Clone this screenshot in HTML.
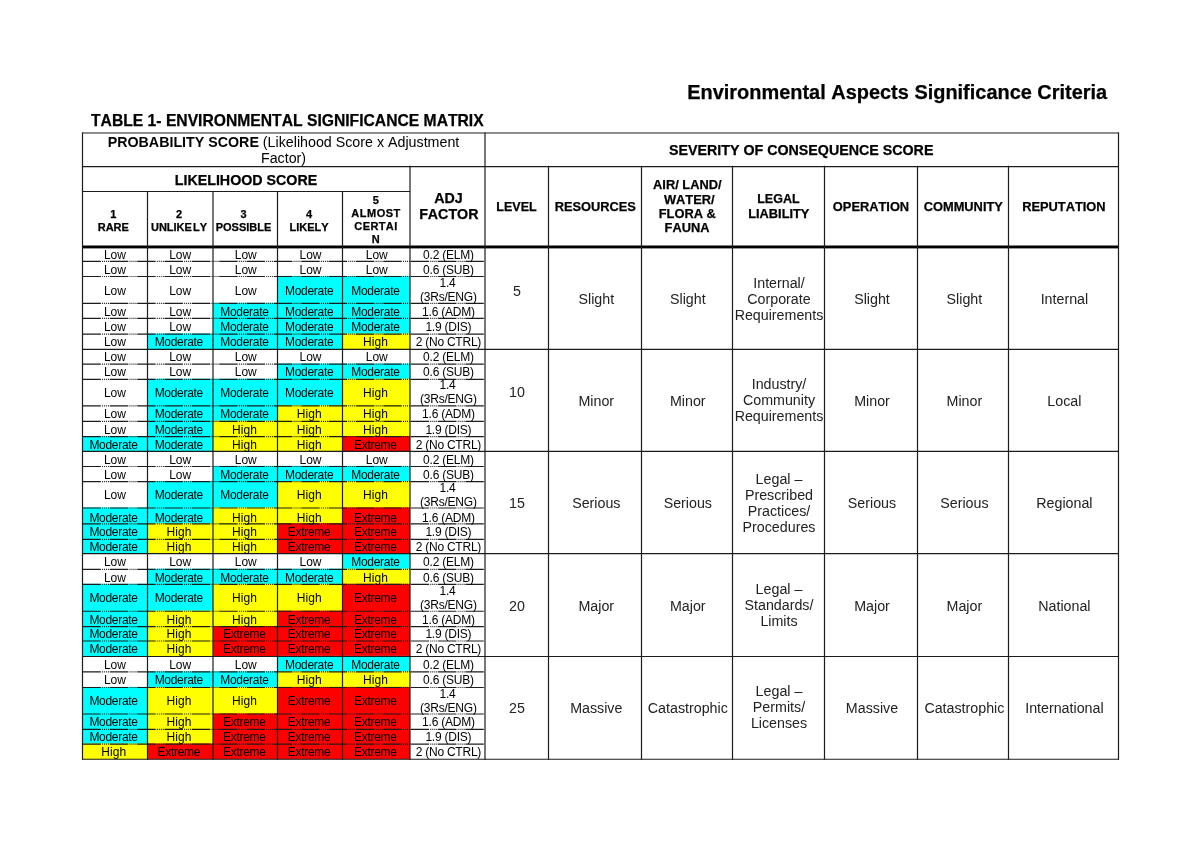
<!DOCTYPE html>
<html><head><meta charset="utf-8"><title>Environmental Aspects Significance Criteria</title>
<style>
html,body{margin:0;padding:0;background:#fff}
body{width:1200px;height:849px;position:relative;overflow:hidden;font-family:"Liberation Sans",sans-serif;color:#000}
.g{position:absolute;left:0;top:0}
.l{stroke:#1c1c1c;stroke-width:1.2}
.d{stroke:#1c1c1c;stroke-width:1.15;stroke-dasharray:18.4 1.2 1 1 1 1 1 1 1 0.75;stroke-dashoffset:0}
.t{position:absolute;white-space:nowrap;font-weight:normal;font-kerning:none}
.b{font-weight:bold;-webkit-text-stroke:0.25px #000}
</style></head><body>
<svg class="g" width="1200" height="849" viewBox="0 0 1200 849">
<rect x="277.5" y="275.90" width="65.00" height="27.50" fill="#00ffff"/>
<rect x="342.5" y="275.90" width="67.50" height="27.50" fill="#00ffff"/>
<rect x="213.0" y="302.80" width="64.50" height="15.60" fill="#00ffff"/>
<rect x="277.5" y="302.80" width="65.00" height="15.60" fill="#00ffff"/>
<rect x="342.5" y="302.80" width="67.50" height="15.60" fill="#00ffff"/>
<rect x="213.0" y="317.80" width="64.50" height="16.30" fill="#00ffff"/>
<rect x="277.5" y="317.80" width="65.00" height="16.30" fill="#00ffff"/>
<rect x="342.5" y="317.80" width="67.50" height="16.30" fill="#00ffff"/>
<rect x="147.5" y="333.50" width="65.50" height="15.95" fill="#00ffff"/>
<rect x="213.0" y="333.50" width="64.50" height="15.95" fill="#00ffff"/>
<rect x="277.5" y="333.50" width="65.00" height="15.95" fill="#00ffff"/>
<rect x="342.5" y="333.50" width="67.50" height="15.95" fill="#ffff00"/>
<rect x="277.5" y="363.50" width="65.00" height="15.80" fill="#00ffff"/>
<rect x="342.5" y="363.50" width="67.50" height="15.80" fill="#00ffff"/>
<rect x="147.5" y="378.70" width="65.50" height="27.10" fill="#00ffff"/>
<rect x="213.0" y="378.70" width="64.50" height="27.10" fill="#00ffff"/>
<rect x="277.5" y="378.70" width="65.00" height="27.10" fill="#00ffff"/>
<rect x="342.5" y="378.70" width="67.50" height="27.10" fill="#ffff00"/>
<rect x="147.5" y="405.20" width="65.50" height="16.10" fill="#00ffff"/>
<rect x="213.0" y="405.20" width="64.50" height="16.10" fill="#00ffff"/>
<rect x="277.5" y="405.20" width="65.00" height="16.10" fill="#ffff00"/>
<rect x="342.5" y="405.20" width="67.50" height="16.10" fill="#ffff00"/>
<rect x="147.5" y="420.70" width="65.50" height="15.90" fill="#00ffff"/>
<rect x="213.0" y="420.70" width="64.50" height="15.90" fill="#ffff00"/>
<rect x="277.5" y="420.70" width="65.00" height="15.90" fill="#ffff00"/>
<rect x="342.5" y="420.70" width="67.50" height="15.90" fill="#ffff00"/>
<rect x="82.5" y="436.00" width="65.00" height="15.40" fill="#00ffff"/>
<rect x="147.5" y="436.00" width="65.50" height="15.40" fill="#00ffff"/>
<rect x="213.0" y="436.00" width="64.50" height="15.40" fill="#ffff00"/>
<rect x="277.5" y="436.00" width="65.00" height="15.40" fill="#ffff00"/>
<rect x="342.5" y="436.00" width="67.50" height="15.40" fill="#ff0000"/>
<rect x="213.0" y="465.85" width="64.50" height="15.75" fill="#00ffff"/>
<rect x="277.5" y="465.85" width="65.00" height="15.75" fill="#00ffff"/>
<rect x="342.5" y="465.85" width="67.50" height="15.75" fill="#00ffff"/>
<rect x="147.5" y="481.00" width="65.50" height="27.00" fill="#00ffff"/>
<rect x="213.0" y="481.00" width="64.50" height="27.00" fill="#00ffff"/>
<rect x="277.5" y="481.00" width="65.00" height="27.00" fill="#ffff00"/>
<rect x="342.5" y="481.00" width="67.50" height="27.00" fill="#ffff00"/>
<rect x="82.5" y="507.40" width="65.00" height="16.40" fill="#00ffff"/>
<rect x="147.5" y="507.40" width="65.50" height="16.40" fill="#00ffff"/>
<rect x="213.0" y="507.40" width="64.50" height="16.40" fill="#ffff00"/>
<rect x="277.5" y="507.40" width="65.00" height="16.40" fill="#ffff00"/>
<rect x="342.5" y="507.40" width="67.50" height="16.40" fill="#ff0000"/>
<rect x="82.5" y="523.20" width="65.00" height="16.10" fill="#00ffff"/>
<rect x="147.5" y="523.20" width="65.50" height="16.10" fill="#ffff00"/>
<rect x="213.0" y="523.20" width="64.50" height="16.10" fill="#ffff00"/>
<rect x="277.5" y="523.20" width="65.00" height="16.10" fill="#ff0000"/>
<rect x="342.5" y="523.20" width="67.50" height="16.10" fill="#ff0000"/>
<rect x="82.5" y="538.70" width="65.00" height="14.95" fill="#00ffff"/>
<rect x="147.5" y="538.70" width="65.50" height="14.95" fill="#ffff00"/>
<rect x="213.0" y="538.70" width="64.50" height="14.95" fill="#ffff00"/>
<rect x="277.5" y="538.70" width="65.00" height="14.95" fill="#ff0000"/>
<rect x="342.5" y="538.70" width="67.50" height="14.95" fill="#ff0000"/>
<rect x="342.5" y="553.05" width="67.50" height="16.25" fill="#00ffff"/>
<rect x="147.5" y="568.70" width="65.50" height="15.70" fill="#00ffff"/>
<rect x="213.0" y="568.70" width="64.50" height="15.70" fill="#00ffff"/>
<rect x="277.5" y="568.70" width="65.00" height="15.70" fill="#00ffff"/>
<rect x="342.5" y="568.70" width="67.50" height="15.70" fill="#ffff00"/>
<rect x="82.5" y="583.80" width="65.00" height="27.45" fill="#00ffff"/>
<rect x="147.5" y="583.80" width="65.50" height="27.45" fill="#00ffff"/>
<rect x="213.0" y="583.80" width="64.50" height="27.45" fill="#ffff00"/>
<rect x="277.5" y="583.80" width="65.00" height="27.45" fill="#ffff00"/>
<rect x="342.5" y="583.80" width="67.50" height="27.45" fill="#ff0000"/>
<rect x="82.5" y="610.65" width="65.00" height="15.95" fill="#00ffff"/>
<rect x="147.5" y="610.65" width="65.50" height="15.95" fill="#ffff00"/>
<rect x="213.0" y="610.65" width="64.50" height="15.95" fill="#ffff00"/>
<rect x="277.5" y="610.65" width="65.00" height="15.95" fill="#ff0000"/>
<rect x="342.5" y="610.65" width="67.50" height="15.95" fill="#ff0000"/>
<rect x="82.5" y="626.00" width="65.00" height="15.00" fill="#00ffff"/>
<rect x="147.5" y="626.00" width="65.50" height="15.00" fill="#ffff00"/>
<rect x="213.0" y="626.00" width="64.50" height="15.00" fill="#ff0000"/>
<rect x="277.5" y="626.00" width="65.00" height="15.00" fill="#ff0000"/>
<rect x="342.5" y="626.00" width="67.50" height="15.00" fill="#ff0000"/>
<rect x="82.5" y="640.40" width="65.00" height="16.10" fill="#00ffff"/>
<rect x="147.5" y="640.40" width="65.50" height="16.10" fill="#ffff00"/>
<rect x="213.0" y="640.40" width="64.50" height="16.10" fill="#ff0000"/>
<rect x="277.5" y="640.40" width="65.00" height="16.10" fill="#ff0000"/>
<rect x="342.5" y="640.40" width="67.50" height="16.10" fill="#ff0000"/>
<rect x="277.5" y="655.90" width="65.00" height="16.00" fill="#00ffff"/>
<rect x="342.5" y="655.90" width="67.50" height="16.00" fill="#00ffff"/>
<rect x="147.5" y="671.30" width="65.50" height="16.20" fill="#00ffff"/>
<rect x="213.0" y="671.30" width="64.50" height="16.20" fill="#00ffff"/>
<rect x="277.5" y="671.30" width="65.00" height="16.20" fill="#ffff00"/>
<rect x="342.5" y="671.30" width="67.50" height="16.20" fill="#ffff00"/>
<rect x="82.5" y="686.90" width="65.00" height="27.10" fill="#00ffff"/>
<rect x="147.5" y="686.90" width="65.50" height="27.10" fill="#ffff00"/>
<rect x="213.0" y="686.90" width="64.50" height="27.10" fill="#ffff00"/>
<rect x="277.5" y="686.90" width="65.00" height="27.10" fill="#ff0000"/>
<rect x="342.5" y="686.90" width="67.50" height="27.10" fill="#ff0000"/>
<rect x="82.5" y="713.40" width="65.00" height="15.90" fill="#00ffff"/>
<rect x="147.5" y="713.40" width="65.50" height="15.90" fill="#ffff00"/>
<rect x="213.0" y="713.40" width="64.50" height="15.90" fill="#ff0000"/>
<rect x="277.5" y="713.40" width="65.00" height="15.90" fill="#ff0000"/>
<rect x="342.5" y="713.40" width="67.50" height="15.90" fill="#ff0000"/>
<rect x="82.5" y="728.70" width="65.00" height="15.40" fill="#00ffff"/>
<rect x="147.5" y="728.70" width="65.50" height="15.40" fill="#ffff00"/>
<rect x="213.0" y="728.70" width="64.50" height="15.40" fill="#ff0000"/>
<rect x="277.5" y="728.70" width="65.00" height="15.40" fill="#ff0000"/>
<rect x="342.5" y="728.70" width="67.50" height="15.40" fill="#ff0000"/>
<rect x="82.5" y="743.50" width="65.00" height="15.75" fill="#ffff00"/>
<rect x="147.5" y="743.50" width="65.50" height="15.75" fill="#ff0000"/>
<rect x="213.0" y="743.50" width="64.50" height="15.75" fill="#ff0000"/>
<rect x="277.5" y="743.50" width="65.00" height="15.75" fill="#ff0000"/>
<rect x="342.5" y="743.50" width="67.50" height="15.75" fill="#ff0000"/>
<line class="l" x1="82.0" y1="133.0" x2="1119.0" y2="133.0"/>
<line class="l" x1="82.0" y1="166.6" x2="1119.0" y2="166.6"/>
<line class="l" x1="82.0" y1="191.5" x2="410.0" y2="191.5"/>
<rect x="82.0" y="245.5" width="1037.0" height="2.90" fill="#000"/>
<line class="d" x1="82.5" y1="261.4" x2="485.0" y2="261.4"/>
<line class="d" x1="82.5" y1="276.5" x2="485.0" y2="276.5"/>
<line class="d" x1="82.5" y1="303.4" x2="485.0" y2="303.4"/>
<line class="d" x1="82.5" y1="318.4" x2="485.0" y2="318.4"/>
<line class="d" x1="82.5" y1="334.1" x2="485.0" y2="334.1"/>
<line class="l" x1="82.0" y1="349.45" x2="1119.0" y2="349.45"/>
<line class="d" x1="82.5" y1="364.1" x2="485.0" y2="364.1"/>
<line class="d" x1="82.5" y1="379.3" x2="485.0" y2="379.3"/>
<line class="d" x1="82.5" y1="405.8" x2="485.0" y2="405.8"/>
<line class="d" x1="82.5" y1="421.3" x2="485.0" y2="421.3"/>
<line class="d" x1="82.5" y1="436.6" x2="485.0" y2="436.6"/>
<line class="l" x1="82.0" y1="451.4" x2="1119.0" y2="451.4"/>
<line class="d" x1="82.5" y1="466.45" x2="485.0" y2="466.45"/>
<line class="d" x1="82.5" y1="481.6" x2="485.0" y2="481.6"/>
<line class="d" x1="82.5" y1="508.0" x2="485.0" y2="508.0"/>
<line class="d" x1="82.5" y1="523.8" x2="485.0" y2="523.8"/>
<line class="d" x1="82.5" y1="539.3" x2="485.0" y2="539.3"/>
<line class="l" x1="82.0" y1="553.65" x2="1119.0" y2="553.65"/>
<line class="d" x1="82.5" y1="569.3" x2="485.0" y2="569.3"/>
<line class="d" x1="82.5" y1="584.4" x2="485.0" y2="584.4"/>
<line class="d" x1="82.5" y1="611.25" x2="485.0" y2="611.25"/>
<line class="d" x1="82.5" y1="626.6" x2="485.0" y2="626.6"/>
<line class="d" x1="82.5" y1="641.0" x2="485.0" y2="641.0"/>
<line class="l" x1="82.0" y1="656.5" x2="1119.0" y2="656.5"/>
<line class="d" x1="82.5" y1="671.9" x2="485.0" y2="671.9"/>
<line class="d" x1="82.5" y1="687.5" x2="485.0" y2="687.5"/>
<line class="d" x1="82.5" y1="714.0" x2="485.0" y2="714.0"/>
<line class="d" x1="82.5" y1="729.3" x2="485.0" y2="729.3"/>
<line class="d" x1="82.5" y1="744.1" x2="485.0" y2="744.1"/>
<line class="l" x1="82.0" y1="759.25" x2="1119.0" y2="759.25"/>
<line class="l" x1="82.5" y1="132.5" x2="82.5" y2="759.75"/>
<line class="l" x1="147.5" y1="191.0" x2="147.5" y2="759.75"/>
<line class="l" x1="213.0" y1="191.0" x2="213.0" y2="759.75"/>
<line class="l" x1="277.5" y1="191.0" x2="277.5" y2="759.75"/>
<line class="l" x1="342.5" y1="191.0" x2="342.5" y2="759.75"/>
<line class="l" x1="410.0" y1="165.7" x2="410.0" y2="759.75"/>
<line class="l" x1="485.0" y1="132.5" x2="485.0" y2="759.75"/>
<line class="l" x1="548.5" y1="165.7" x2="548.5" y2="759.75"/>
<line class="l" x1="641.5" y1="165.7" x2="641.5" y2="759.75"/>
<line class="l" x1="732.5" y1="165.7" x2="732.5" y2="759.75"/>
<line class="l" x1="824.5" y1="165.7" x2="824.5" y2="759.75"/>
<line class="l" x1="917.5" y1="165.7" x2="917.5" y2="759.75"/>
<line class="l" x1="1008.5" y1="165.7" x2="1008.5" y2="759.75"/>
<line class="l" x1="1118.5" y1="132.5" x2="1118.5" y2="759.75"/>
</svg>
<div class="t b" style="left:207.20px;top:79.69px;width:900px;font-size:19.95px;line-height:24px;text-align:right;">Environmental Aspects Significance Criteria</div>
<div class="t b" style="left:91.00px;top:111.27px;width:900px;font-size:15.68px;line-height:19px;text-align:left;">TABLE 1- ENVIRONMENTAL SIGNIFICANCE MATRIX</div>
<div class="t" style="left:-166.50px;top:134.26px;width:900px;font-size:14.25px;line-height:17px;text-align:center;"><b>PROBABILITY SCORE</b> (Likelihood Score x Adjustment</div>
<div class="t" style="left:-166.50px;top:149.96px;width:900px;font-size:14.25px;line-height:17px;text-align:center;">Factor)</div>
<div class="t b" style="left:-204.00px;top:172.16px;width:900px;font-size:14.25px;line-height:17px;text-align:center;">LIKELIHOOD SCORE</div>
<div class="t b" style="left:351.20px;top:142.06px;width:900px;font-size:14.25px;line-height:17px;text-align:center;">SEVERITY OF CONSEQUENCE SCORE</div>
<div class="t b" style="left:-336.70px;top:207.99px;width:900px;font-size:11px;line-height:13px;text-align:center;">1</div>
<div class="t b" style="left:-336.70px;top:220.79px;width:900px;font-size:11px;line-height:13px;text-align:center;">RARE</div>
<div class="t b" style="left:-271.00px;top:207.99px;width:900px;font-size:11px;line-height:13px;text-align:center;">2</div>
<div class="t b" style="left:-271.00px;top:220.79px;width:900px;font-size:11px;line-height:13px;text-align:center;">UNLIK<span style="letter-spacing:1.1px">E</span>LY</div>
<div class="t b" style="left:-206.50px;top:207.99px;width:900px;font-size:11px;line-height:13px;text-align:center;">3</div>
<div class="t b" style="left:-206.50px;top:220.79px;width:900px;font-size:11px;line-height:13px;text-align:center;">POSSIBLE</div>
<div class="t b" style="left:-141.00px;top:207.99px;width:900px;font-size:11px;line-height:13px;text-align:center;">4</div>
<div class="t b" style="left:-141.00px;top:220.79px;width:900px;font-size:11px;line-height:13px;text-align:center;">LIKELY</div>
<div class="t b" style="left:-74.20px;top:193.89px;width:900px;font-size:11px;line-height:13px;text-align:center;letter-spacing:0px">5</div>
<div class="t b" style="left:-73.95px;top:206.99px;width:900px;font-size:11px;line-height:13px;text-align:center;letter-spacing:0.5px">ALMOST</div>
<div class="t b" style="left:-74.00px;top:219.89px;width:900px;font-size:11px;line-height:13px;text-align:center;letter-spacing:0.4px">CERTAI</div>
<div class="t b" style="left:-74.20px;top:232.99px;width:900px;font-size:11px;line-height:13px;text-align:center;letter-spacing:0px">N</div>
<div class="t b" style="left:-1.50px;top:189.86px;width:900px;font-size:14.25px;line-height:17px;text-align:center;">ADJ</div>
<div class="t b" style="left:-1.20px;top:206.36px;width:900px;font-size:14.25px;line-height:17px;text-align:center;">FACTOR</div>
<div class="t b" style="left:66.50px;top:199.97px;width:900px;font-size:12.5px;line-height:15px;text-align:center;">LEVEL</div>
<div class="t b" style="left:145.30px;top:198.85px;width:900px;font-size:12.83px;line-height:15px;text-align:center;">RESOURCES</div>
<div class="t b" style="left:237.30px;top:176.75px;width:900px;font-size:12.83px;line-height:15px;text-align:center;">AIR/ LAND/</div>
<div class="t b" style="left:239.30px;top:191.75px;width:900px;font-size:12.83px;line-height:15px;text-align:center;">WATER/</div>
<div class="t b" style="left:237.30px;top:206.25px;width:900px;font-size:12.83px;line-height:15px;text-align:center;">FLORA &amp;</div>
<div class="t b" style="left:237.00px;top:220.45px;width:900px;font-size:12.83px;line-height:15px;text-align:center;">FAUNA</div>
<div class="t b" style="left:328.40px;top:191.87px;width:900px;font-size:12.5px;line-height:15px;text-align:center;">LEGAL</div>
<div class="t b" style="left:328.80px;top:206.25px;width:900px;font-size:12.83px;line-height:15px;text-align:center;">LIABILITY</div>
<div class="t b" style="left:421.00px;top:198.85px;width:900px;font-size:12.83px;line-height:15px;text-align:center;">OPERATION</div>
<div class="t b" style="left:513.30px;top:198.85px;width:900px;font-size:12.83px;line-height:15px;text-align:center;">COMMUNITY</div>
<div class="t b" style="left:613.90px;top:198.85px;width:900px;font-size:12.83px;line-height:15px;text-align:center;">REPUTATION</div>
<div class="t" style="left:-335.10px;top:248.00px;width:900px;font-size:12px;line-height:14px;text-align:center;">Low</div>
<div class="t" style="left:-269.85px;top:248.00px;width:900px;font-size:12px;line-height:14px;text-align:center;">Low</div>
<div class="t" style="left:-204.25px;top:248.00px;width:900px;font-size:12px;line-height:14px;text-align:center;">Low</div>
<div class="t" style="left:-139.50px;top:248.00px;width:900px;font-size:12px;line-height:14px;text-align:center;">Low</div>
<div class="t" style="left:-73.25px;top:248.00px;width:900px;font-size:12px;line-height:14px;text-align:center;">Low</div>
<div class="t" style="left:-1.62px;top:248.00px;width:900px;font-size:12px;line-height:14px;text-align:center;letter-spacing:-0.23px">0.2 (ELM)</div>
<div class="t" style="left:-335.10px;top:263.00px;width:900px;font-size:12px;line-height:14px;text-align:center;">Low</div>
<div class="t" style="left:-269.85px;top:263.00px;width:900px;font-size:12px;line-height:14px;text-align:center;">Low</div>
<div class="t" style="left:-204.25px;top:263.00px;width:900px;font-size:12px;line-height:14px;text-align:center;">Low</div>
<div class="t" style="left:-139.50px;top:263.00px;width:900px;font-size:12px;line-height:14px;text-align:center;">Low</div>
<div class="t" style="left:-73.25px;top:263.00px;width:900px;font-size:12px;line-height:14px;text-align:center;">Low</div>
<div class="t" style="left:-1.62px;top:263.00px;width:900px;font-size:12px;line-height:14px;text-align:center;letter-spacing:-0.23px">0.6 (SUB)</div>
<div class="t" style="left:-335.10px;top:284.00px;width:900px;font-size:12px;line-height:14px;text-align:center;">Low</div>
<div class="t" style="left:-269.85px;top:284.00px;width:900px;font-size:12px;line-height:14px;text-align:center;">Low</div>
<div class="t" style="left:-204.25px;top:284.00px;width:900px;font-size:12px;line-height:14px;text-align:center;">Low</div>
<div class="t" style="left:-140.85px;top:284.00px;width:900px;font-size:12px;line-height:14px;text-align:center;letter-spacing:-0.3px">Moderate</div>
<div class="t" style="left:-74.60px;top:284.00px;width:900px;font-size:12px;line-height:14px;text-align:center;letter-spacing:-0.3px">Moderate</div>
<div class="t" style="left:-2.51px;top:276.00px;width:900px;font-size:12px;line-height:14px;text-align:center;letter-spacing:-0.23px">1.4</div>
<div class="t" style="left:-1.62px;top:290.00px;width:900px;font-size:12px;line-height:14px;text-align:center;letter-spacing:-0.23px">(3Rs/ENG)</div>
<div class="t" style="left:-335.10px;top:305.00px;width:900px;font-size:12px;line-height:14px;text-align:center;">Low</div>
<div class="t" style="left:-269.85px;top:305.00px;width:900px;font-size:12px;line-height:14px;text-align:center;">Low</div>
<div class="t" style="left:-205.60px;top:305.00px;width:900px;font-size:12px;line-height:14px;text-align:center;letter-spacing:-0.3px">Moderate</div>
<div class="t" style="left:-140.85px;top:305.00px;width:900px;font-size:12px;line-height:14px;text-align:center;letter-spacing:-0.3px">Moderate</div>
<div class="t" style="left:-74.60px;top:305.00px;width:900px;font-size:12px;line-height:14px;text-align:center;letter-spacing:-0.3px">Moderate</div>
<div class="t" style="left:-1.62px;top:305.00px;width:900px;font-size:12px;line-height:14px;text-align:center;letter-spacing:-0.23px">1.6 (ADM)</div>
<div class="t" style="left:-335.10px;top:320.00px;width:900px;font-size:12px;line-height:14px;text-align:center;">Low</div>
<div class="t" style="left:-269.85px;top:320.00px;width:900px;font-size:12px;line-height:14px;text-align:center;">Low</div>
<div class="t" style="left:-205.60px;top:320.00px;width:900px;font-size:12px;line-height:14px;text-align:center;letter-spacing:-0.3px">Moderate</div>
<div class="t" style="left:-140.85px;top:320.00px;width:900px;font-size:12px;line-height:14px;text-align:center;letter-spacing:-0.3px">Moderate</div>
<div class="t" style="left:-74.60px;top:320.00px;width:900px;font-size:12px;line-height:14px;text-align:center;letter-spacing:-0.3px">Moderate</div>
<div class="t" style="left:-1.62px;top:320.00px;width:900px;font-size:12px;line-height:14px;text-align:center;letter-spacing:-0.23px">1.9 (DIS)</div>
<div class="t" style="left:-335.10px;top:335.00px;width:900px;font-size:12px;line-height:14px;text-align:center;">Low</div>
<div class="t" style="left:-271.20px;top:335.00px;width:900px;font-size:12px;line-height:14px;text-align:center;letter-spacing:-0.3px">Moderate</div>
<div class="t" style="left:-205.60px;top:335.00px;width:900px;font-size:12px;line-height:14px;text-align:center;letter-spacing:-0.3px">Moderate</div>
<div class="t" style="left:-140.85px;top:335.00px;width:900px;font-size:12px;line-height:14px;text-align:center;letter-spacing:-0.3px">Moderate</div>
<div class="t" style="left:-74.40px;top:335.00px;width:900px;font-size:12px;line-height:14px;text-align:center;letter-spacing:0.1px">High</div>
<div class="t" style="left:-1.62px;top:335.00px;width:900px;font-size:12px;line-height:14px;text-align:center;letter-spacing:-0.23px">2 (No CTRL)</div>
<div class="t" style="left:-335.10px;top:350.00px;width:900px;font-size:12px;line-height:14px;text-align:center;">Low</div>
<div class="t" style="left:-269.85px;top:350.00px;width:900px;font-size:12px;line-height:14px;text-align:center;">Low</div>
<div class="t" style="left:-204.25px;top:350.00px;width:900px;font-size:12px;line-height:14px;text-align:center;">Low</div>
<div class="t" style="left:-139.50px;top:350.00px;width:900px;font-size:12px;line-height:14px;text-align:center;">Low</div>
<div class="t" style="left:-73.25px;top:350.00px;width:900px;font-size:12px;line-height:14px;text-align:center;">Low</div>
<div class="t" style="left:-1.62px;top:350.00px;width:900px;font-size:12px;line-height:14px;text-align:center;letter-spacing:-0.23px">0.2 (ELM)</div>
<div class="t" style="left:-335.10px;top:365.00px;width:900px;font-size:12px;line-height:14px;text-align:center;">Low</div>
<div class="t" style="left:-269.85px;top:365.00px;width:900px;font-size:12px;line-height:14px;text-align:center;">Low</div>
<div class="t" style="left:-204.25px;top:365.00px;width:900px;font-size:12px;line-height:14px;text-align:center;">Low</div>
<div class="t" style="left:-140.85px;top:365.00px;width:900px;font-size:12px;line-height:14px;text-align:center;letter-spacing:-0.3px">Moderate</div>
<div class="t" style="left:-74.60px;top:365.00px;width:900px;font-size:12px;line-height:14px;text-align:center;letter-spacing:-0.3px">Moderate</div>
<div class="t" style="left:-1.62px;top:365.00px;width:900px;font-size:12px;line-height:14px;text-align:center;letter-spacing:-0.23px">0.6 (SUB)</div>
<div class="t" style="left:-335.10px;top:386.00px;width:900px;font-size:12px;line-height:14px;text-align:center;">Low</div>
<div class="t" style="left:-271.20px;top:386.00px;width:900px;font-size:12px;line-height:14px;text-align:center;letter-spacing:-0.3px">Moderate</div>
<div class="t" style="left:-205.60px;top:386.00px;width:900px;font-size:12px;line-height:14px;text-align:center;letter-spacing:-0.3px">Moderate</div>
<div class="t" style="left:-140.85px;top:386.00px;width:900px;font-size:12px;line-height:14px;text-align:center;letter-spacing:-0.3px">Moderate</div>
<div class="t" style="left:-74.40px;top:386.00px;width:900px;font-size:12px;line-height:14px;text-align:center;letter-spacing:0.1px">High</div>
<div class="t" style="left:-2.51px;top:378.00px;width:900px;font-size:12px;line-height:14px;text-align:center;letter-spacing:-0.23px">1.4</div>
<div class="t" style="left:-1.62px;top:392.00px;width:900px;font-size:12px;line-height:14px;text-align:center;letter-spacing:-0.23px">(3Rs/ENG)</div>
<div class="t" style="left:-335.10px;top:407.00px;width:900px;font-size:12px;line-height:14px;text-align:center;">Low</div>
<div class="t" style="left:-271.20px;top:407.00px;width:900px;font-size:12px;line-height:14px;text-align:center;letter-spacing:-0.3px">Moderate</div>
<div class="t" style="left:-205.60px;top:407.00px;width:900px;font-size:12px;line-height:14px;text-align:center;letter-spacing:-0.3px">Moderate</div>
<div class="t" style="left:-140.65px;top:407.00px;width:900px;font-size:12px;line-height:14px;text-align:center;letter-spacing:0.1px">High</div>
<div class="t" style="left:-74.40px;top:407.00px;width:900px;font-size:12px;line-height:14px;text-align:center;letter-spacing:0.1px">High</div>
<div class="t" style="left:-1.62px;top:407.00px;width:900px;font-size:12px;line-height:14px;text-align:center;letter-spacing:-0.23px">1.6 (ADM)</div>
<div class="t" style="left:-335.10px;top:423.00px;width:900px;font-size:12px;line-height:14px;text-align:center;">Low</div>
<div class="t" style="left:-271.20px;top:423.00px;width:900px;font-size:12px;line-height:14px;text-align:center;letter-spacing:-0.3px">Moderate</div>
<div class="t" style="left:-205.40px;top:423.00px;width:900px;font-size:12px;line-height:14px;text-align:center;letter-spacing:0.1px">High</div>
<div class="t" style="left:-140.65px;top:423.00px;width:900px;font-size:12px;line-height:14px;text-align:center;letter-spacing:0.1px">High</div>
<div class="t" style="left:-74.40px;top:423.00px;width:900px;font-size:12px;line-height:14px;text-align:center;letter-spacing:0.1px">High</div>
<div class="t" style="left:-1.62px;top:423.00px;width:900px;font-size:12px;line-height:14px;text-align:center;letter-spacing:-0.23px">1.9 (DIS)</div>
<div class="t" style="left:-336.45px;top:438.00px;width:900px;font-size:12px;line-height:14px;text-align:center;letter-spacing:-0.3px">Moderate</div>
<div class="t" style="left:-271.20px;top:438.00px;width:900px;font-size:12px;line-height:14px;text-align:center;letter-spacing:-0.3px">Moderate</div>
<div class="t" style="left:-205.40px;top:438.00px;width:900px;font-size:12px;line-height:14px;text-align:center;letter-spacing:0.1px">High</div>
<div class="t" style="left:-140.65px;top:438.00px;width:900px;font-size:12px;line-height:14px;text-align:center;letter-spacing:0.1px">High</div>
<div class="t" style="left:-74.60px;top:438.00px;width:900px;font-size:12px;line-height:14px;text-align:center;letter-spacing:-0.3px">Extreme</div>
<div class="t" style="left:-1.62px;top:438.00px;width:900px;font-size:12px;line-height:14px;text-align:center;letter-spacing:-0.23px">2 (No CTRL)</div>
<div class="t" style="left:-335.10px;top:453.00px;width:900px;font-size:12px;line-height:14px;text-align:center;">Low</div>
<div class="t" style="left:-269.85px;top:453.00px;width:900px;font-size:12px;line-height:14px;text-align:center;">Low</div>
<div class="t" style="left:-204.25px;top:453.00px;width:900px;font-size:12px;line-height:14px;text-align:center;">Low</div>
<div class="t" style="left:-139.50px;top:453.00px;width:900px;font-size:12px;line-height:14px;text-align:center;">Low</div>
<div class="t" style="left:-73.25px;top:453.00px;width:900px;font-size:12px;line-height:14px;text-align:center;">Low</div>
<div class="t" style="left:-1.62px;top:453.00px;width:900px;font-size:12px;line-height:14px;text-align:center;letter-spacing:-0.23px">0.2 (ELM)</div>
<div class="t" style="left:-335.10px;top:468.00px;width:900px;font-size:12px;line-height:14px;text-align:center;">Low</div>
<div class="t" style="left:-269.85px;top:468.00px;width:900px;font-size:12px;line-height:14px;text-align:center;">Low</div>
<div class="t" style="left:-205.60px;top:468.00px;width:900px;font-size:12px;line-height:14px;text-align:center;letter-spacing:-0.3px">Moderate</div>
<div class="t" style="left:-140.85px;top:468.00px;width:900px;font-size:12px;line-height:14px;text-align:center;letter-spacing:-0.3px">Moderate</div>
<div class="t" style="left:-74.60px;top:468.00px;width:900px;font-size:12px;line-height:14px;text-align:center;letter-spacing:-0.3px">Moderate</div>
<div class="t" style="left:-1.62px;top:468.00px;width:900px;font-size:12px;line-height:14px;text-align:center;letter-spacing:-0.23px">0.6 (SUB)</div>
<div class="t" style="left:-335.10px;top:488.00px;width:900px;font-size:12px;line-height:14px;text-align:center;">Low</div>
<div class="t" style="left:-271.20px;top:488.00px;width:900px;font-size:12px;line-height:14px;text-align:center;letter-spacing:-0.3px">Moderate</div>
<div class="t" style="left:-205.60px;top:488.00px;width:900px;font-size:12px;line-height:14px;text-align:center;letter-spacing:-0.3px">Moderate</div>
<div class="t" style="left:-140.65px;top:488.00px;width:900px;font-size:12px;line-height:14px;text-align:center;letter-spacing:0.1px">High</div>
<div class="t" style="left:-74.40px;top:488.00px;width:900px;font-size:12px;line-height:14px;text-align:center;letter-spacing:0.1px">High</div>
<div class="t" style="left:-2.51px;top:481.00px;width:900px;font-size:12px;line-height:14px;text-align:center;letter-spacing:-0.23px">1.4</div>
<div class="t" style="left:-1.62px;top:495.00px;width:900px;font-size:12px;line-height:14px;text-align:center;letter-spacing:-0.23px">(3Rs/ENG)</div>
<div class="t" style="left:-336.45px;top:511.00px;width:900px;font-size:12px;line-height:14px;text-align:center;letter-spacing:-0.3px">Moderate</div>
<div class="t" style="left:-271.20px;top:511.00px;width:900px;font-size:12px;line-height:14px;text-align:center;letter-spacing:-0.3px">Moderate</div>
<div class="t" style="left:-205.40px;top:511.00px;width:900px;font-size:12px;line-height:14px;text-align:center;letter-spacing:0.1px">High</div>
<div class="t" style="left:-140.65px;top:511.00px;width:900px;font-size:12px;line-height:14px;text-align:center;letter-spacing:0.1px">High</div>
<div class="t" style="left:-74.60px;top:511.00px;width:900px;font-size:12px;line-height:14px;text-align:center;letter-spacing:-0.3px">Extreme</div>
<div class="t" style="left:-1.62px;top:511.00px;width:900px;font-size:12px;line-height:14px;text-align:center;letter-spacing:-0.23px">1.6 (ADM)</div>
<div class="t" style="left:-336.45px;top:525.00px;width:900px;font-size:12px;line-height:14px;text-align:center;letter-spacing:-0.3px">Moderate</div>
<div class="t" style="left:-271.00px;top:525.00px;width:900px;font-size:12px;line-height:14px;text-align:center;letter-spacing:0.1px">High</div>
<div class="t" style="left:-205.40px;top:525.00px;width:900px;font-size:12px;line-height:14px;text-align:center;letter-spacing:0.1px">High</div>
<div class="t" style="left:-140.85px;top:525.00px;width:900px;font-size:12px;line-height:14px;text-align:center;letter-spacing:-0.3px">Extreme</div>
<div class="t" style="left:-74.60px;top:525.00px;width:900px;font-size:12px;line-height:14px;text-align:center;letter-spacing:-0.3px">Extreme</div>
<div class="t" style="left:-1.62px;top:525.00px;width:900px;font-size:12px;line-height:14px;text-align:center;letter-spacing:-0.23px">1.9 (DIS)</div>
<div class="t" style="left:-336.45px;top:540.00px;width:900px;font-size:12px;line-height:14px;text-align:center;letter-spacing:-0.3px">Moderate</div>
<div class="t" style="left:-271.00px;top:540.00px;width:900px;font-size:12px;line-height:14px;text-align:center;letter-spacing:0.1px">High</div>
<div class="t" style="left:-205.40px;top:540.00px;width:900px;font-size:12px;line-height:14px;text-align:center;letter-spacing:0.1px">High</div>
<div class="t" style="left:-140.85px;top:540.00px;width:900px;font-size:12px;line-height:14px;text-align:center;letter-spacing:-0.3px">Extreme</div>
<div class="t" style="left:-74.60px;top:540.00px;width:900px;font-size:12px;line-height:14px;text-align:center;letter-spacing:-0.3px">Extreme</div>
<div class="t" style="left:-1.62px;top:540.00px;width:900px;font-size:12px;line-height:14px;text-align:center;letter-spacing:-0.23px">2 (No CTRL)</div>
<div class="t" style="left:-335.10px;top:555.00px;width:900px;font-size:12px;line-height:14px;text-align:center;">Low</div>
<div class="t" style="left:-269.85px;top:555.00px;width:900px;font-size:12px;line-height:14px;text-align:center;">Low</div>
<div class="t" style="left:-204.25px;top:555.00px;width:900px;font-size:12px;line-height:14px;text-align:center;">Low</div>
<div class="t" style="left:-139.50px;top:555.00px;width:900px;font-size:12px;line-height:14px;text-align:center;">Low</div>
<div class="t" style="left:-74.60px;top:555.00px;width:900px;font-size:12px;line-height:14px;text-align:center;letter-spacing:-0.3px">Moderate</div>
<div class="t" style="left:-1.62px;top:555.00px;width:900px;font-size:12px;line-height:14px;text-align:center;letter-spacing:-0.23px">0.2 (ELM)</div>
<div class="t" style="left:-335.10px;top:571.00px;width:900px;font-size:12px;line-height:14px;text-align:center;">Low</div>
<div class="t" style="left:-271.20px;top:571.00px;width:900px;font-size:12px;line-height:14px;text-align:center;letter-spacing:-0.3px">Moderate</div>
<div class="t" style="left:-205.60px;top:571.00px;width:900px;font-size:12px;line-height:14px;text-align:center;letter-spacing:-0.3px">Moderate</div>
<div class="t" style="left:-140.85px;top:571.00px;width:900px;font-size:12px;line-height:14px;text-align:center;letter-spacing:-0.3px">Moderate</div>
<div class="t" style="left:-74.40px;top:571.00px;width:900px;font-size:12px;line-height:14px;text-align:center;letter-spacing:0.1px">High</div>
<div class="t" style="left:-1.62px;top:571.00px;width:900px;font-size:12px;line-height:14px;text-align:center;letter-spacing:-0.23px">0.6 (SUB)</div>
<div class="t" style="left:-336.45px;top:591.00px;width:900px;font-size:12px;line-height:14px;text-align:center;letter-spacing:-0.3px">Moderate</div>
<div class="t" style="left:-271.20px;top:591.00px;width:900px;font-size:12px;line-height:14px;text-align:center;letter-spacing:-0.3px">Moderate</div>
<div class="t" style="left:-205.40px;top:591.00px;width:900px;font-size:12px;line-height:14px;text-align:center;letter-spacing:0.1px">High</div>
<div class="t" style="left:-140.65px;top:591.00px;width:900px;font-size:12px;line-height:14px;text-align:center;letter-spacing:0.1px">High</div>
<div class="t" style="left:-74.60px;top:591.00px;width:900px;font-size:12px;line-height:14px;text-align:center;letter-spacing:-0.3px">Extreme</div>
<div class="t" style="left:-2.51px;top:584.00px;width:900px;font-size:12px;line-height:14px;text-align:center;letter-spacing:-0.23px">1.4</div>
<div class="t" style="left:-1.62px;top:598.00px;width:900px;font-size:12px;line-height:14px;text-align:center;letter-spacing:-0.23px">(3Rs/ENG)</div>
<div class="t" style="left:-336.45px;top:613.00px;width:900px;font-size:12px;line-height:14px;text-align:center;letter-spacing:-0.3px">Moderate</div>
<div class="t" style="left:-271.00px;top:613.00px;width:900px;font-size:12px;line-height:14px;text-align:center;letter-spacing:0.1px">High</div>
<div class="t" style="left:-205.40px;top:613.00px;width:900px;font-size:12px;line-height:14px;text-align:center;letter-spacing:0.1px">High</div>
<div class="t" style="left:-140.85px;top:613.00px;width:900px;font-size:12px;line-height:14px;text-align:center;letter-spacing:-0.3px">Extreme</div>
<div class="t" style="left:-74.60px;top:613.00px;width:900px;font-size:12px;line-height:14px;text-align:center;letter-spacing:-0.3px">Extreme</div>
<div class="t" style="left:-1.62px;top:613.00px;width:900px;font-size:12px;line-height:14px;text-align:center;letter-spacing:-0.23px">1.6 (ADM)</div>
<div class="t" style="left:-336.45px;top:627.00px;width:900px;font-size:12px;line-height:14px;text-align:center;letter-spacing:-0.3px">Moderate</div>
<div class="t" style="left:-271.00px;top:627.00px;width:900px;font-size:12px;line-height:14px;text-align:center;letter-spacing:0.1px">High</div>
<div class="t" style="left:-205.60px;top:627.00px;width:900px;font-size:12px;line-height:14px;text-align:center;letter-spacing:-0.3px">Extreme</div>
<div class="t" style="left:-140.85px;top:627.00px;width:900px;font-size:12px;line-height:14px;text-align:center;letter-spacing:-0.3px">Extreme</div>
<div class="t" style="left:-74.60px;top:627.00px;width:900px;font-size:12px;line-height:14px;text-align:center;letter-spacing:-0.3px">Extreme</div>
<div class="t" style="left:-1.62px;top:627.00px;width:900px;font-size:12px;line-height:14px;text-align:center;letter-spacing:-0.23px">1.9 (DIS)</div>
<div class="t" style="left:-336.45px;top:642.00px;width:900px;font-size:12px;line-height:14px;text-align:center;letter-spacing:-0.3px">Moderate</div>
<div class="t" style="left:-271.00px;top:642.00px;width:900px;font-size:12px;line-height:14px;text-align:center;letter-spacing:0.1px">High</div>
<div class="t" style="left:-205.60px;top:642.00px;width:900px;font-size:12px;line-height:14px;text-align:center;letter-spacing:-0.3px">Extreme</div>
<div class="t" style="left:-140.85px;top:642.00px;width:900px;font-size:12px;line-height:14px;text-align:center;letter-spacing:-0.3px">Extreme</div>
<div class="t" style="left:-74.60px;top:642.00px;width:900px;font-size:12px;line-height:14px;text-align:center;letter-spacing:-0.3px">Extreme</div>
<div class="t" style="left:-1.62px;top:642.00px;width:900px;font-size:12px;line-height:14px;text-align:center;letter-spacing:-0.23px">2 (No CTRL)</div>
<div class="t" style="left:-335.10px;top:658.00px;width:900px;font-size:12px;line-height:14px;text-align:center;">Low</div>
<div class="t" style="left:-269.85px;top:658.00px;width:900px;font-size:12px;line-height:14px;text-align:center;">Low</div>
<div class="t" style="left:-204.25px;top:658.00px;width:900px;font-size:12px;line-height:14px;text-align:center;">Low</div>
<div class="t" style="left:-140.85px;top:658.00px;width:900px;font-size:12px;line-height:14px;text-align:center;letter-spacing:-0.3px">Moderate</div>
<div class="t" style="left:-74.60px;top:658.00px;width:900px;font-size:12px;line-height:14px;text-align:center;letter-spacing:-0.3px">Moderate</div>
<div class="t" style="left:-1.62px;top:658.00px;width:900px;font-size:12px;line-height:14px;text-align:center;letter-spacing:-0.23px">0.2 (ELM)</div>
<div class="t" style="left:-335.10px;top:673.00px;width:900px;font-size:12px;line-height:14px;text-align:center;">Low</div>
<div class="t" style="left:-271.20px;top:673.00px;width:900px;font-size:12px;line-height:14px;text-align:center;letter-spacing:-0.3px">Moderate</div>
<div class="t" style="left:-205.60px;top:673.00px;width:900px;font-size:12px;line-height:14px;text-align:center;letter-spacing:-0.3px">Moderate</div>
<div class="t" style="left:-140.65px;top:673.00px;width:900px;font-size:12px;line-height:14px;text-align:center;letter-spacing:0.1px">High</div>
<div class="t" style="left:-74.40px;top:673.00px;width:900px;font-size:12px;line-height:14px;text-align:center;letter-spacing:0.1px">High</div>
<div class="t" style="left:-1.62px;top:673.00px;width:900px;font-size:12px;line-height:14px;text-align:center;letter-spacing:-0.23px">0.6 (SUB)</div>
<div class="t" style="left:-336.45px;top:694.00px;width:900px;font-size:12px;line-height:14px;text-align:center;letter-spacing:-0.3px">Moderate</div>
<div class="t" style="left:-271.00px;top:694.00px;width:900px;font-size:12px;line-height:14px;text-align:center;letter-spacing:0.1px">High</div>
<div class="t" style="left:-205.40px;top:694.00px;width:900px;font-size:12px;line-height:14px;text-align:center;letter-spacing:0.1px">High</div>
<div class="t" style="left:-140.85px;top:694.00px;width:900px;font-size:12px;line-height:14px;text-align:center;letter-spacing:-0.3px">Extreme</div>
<div class="t" style="left:-74.60px;top:694.00px;width:900px;font-size:12px;line-height:14px;text-align:center;letter-spacing:-0.3px">Extreme</div>
<div class="t" style="left:-2.51px;top:687.00px;width:900px;font-size:12px;line-height:14px;text-align:center;letter-spacing:-0.23px">1.4</div>
<div class="t" style="left:-1.62px;top:701.00px;width:900px;font-size:12px;line-height:14px;text-align:center;letter-spacing:-0.23px">(3Rs/ENG)</div>
<div class="t" style="left:-336.45px;top:715.00px;width:900px;font-size:12px;line-height:14px;text-align:center;letter-spacing:-0.3px">Moderate</div>
<div class="t" style="left:-271.00px;top:715.00px;width:900px;font-size:12px;line-height:14px;text-align:center;letter-spacing:0.1px">High</div>
<div class="t" style="left:-205.60px;top:715.00px;width:900px;font-size:12px;line-height:14px;text-align:center;letter-spacing:-0.3px">Extreme</div>
<div class="t" style="left:-140.85px;top:715.00px;width:900px;font-size:12px;line-height:14px;text-align:center;letter-spacing:-0.3px">Extreme</div>
<div class="t" style="left:-74.60px;top:715.00px;width:900px;font-size:12px;line-height:14px;text-align:center;letter-spacing:-0.3px">Extreme</div>
<div class="t" style="left:-1.62px;top:715.00px;width:900px;font-size:12px;line-height:14px;text-align:center;letter-spacing:-0.23px">1.6 (ADM)</div>
<div class="t" style="left:-336.45px;top:730.00px;width:900px;font-size:12px;line-height:14px;text-align:center;letter-spacing:-0.3px">Moderate</div>
<div class="t" style="left:-271.00px;top:730.00px;width:900px;font-size:12px;line-height:14px;text-align:center;letter-spacing:0.1px">High</div>
<div class="t" style="left:-205.60px;top:730.00px;width:900px;font-size:12px;line-height:14px;text-align:center;letter-spacing:-0.3px">Extreme</div>
<div class="t" style="left:-140.85px;top:730.00px;width:900px;font-size:12px;line-height:14px;text-align:center;letter-spacing:-0.3px">Extreme</div>
<div class="t" style="left:-74.60px;top:730.00px;width:900px;font-size:12px;line-height:14px;text-align:center;letter-spacing:-0.3px">Extreme</div>
<div class="t" style="left:-1.62px;top:730.00px;width:900px;font-size:12px;line-height:14px;text-align:center;letter-spacing:-0.23px">1.9 (DIS)</div>
<div class="t" style="left:-336.25px;top:745.00px;width:900px;font-size:12px;line-height:14px;text-align:center;letter-spacing:0.1px">High</div>
<div class="t" style="left:-271.20px;top:745.00px;width:900px;font-size:12px;line-height:14px;text-align:center;letter-spacing:-0.3px">Extreme</div>
<div class="t" style="left:-205.60px;top:745.00px;width:900px;font-size:12px;line-height:14px;text-align:center;letter-spacing:-0.3px">Extreme</div>
<div class="t" style="left:-140.85px;top:745.00px;width:900px;font-size:12px;line-height:14px;text-align:center;letter-spacing:-0.3px">Extreme</div>
<div class="t" style="left:-74.60px;top:745.00px;width:900px;font-size:12px;line-height:14px;text-align:center;letter-spacing:-0.3px">Extreme</div>
<div class="t" style="left:-1.62px;top:745.00px;width:900px;font-size:12px;line-height:14px;text-align:center;letter-spacing:-0.23px">2 (No CTRL)</div>
<div class="t" style="left:67.00px;top:282.56px;width:900px;font-size:14.25px;line-height:17px;text-align:center;color:#222">5</div>
<div class="t" style="left:67.00px;top:384.26px;width:900px;font-size:14.25px;line-height:17px;text-align:center;color:#222">10</div>
<div class="t" style="left:67.00px;top:495.26px;width:900px;font-size:14.25px;line-height:17px;text-align:center;color:#222">15</div>
<div class="t" style="left:67.00px;top:598.16px;width:900px;font-size:14.25px;line-height:17px;text-align:center;color:#222">20</div>
<div class="t" style="left:67.00px;top:700.06px;width:900px;font-size:14.25px;line-height:17px;text-align:center;color:#222">25</div>
<div class="t" style="left:146.30px;top:291.26px;width:900px;font-size:14.25px;line-height:17px;text-align:center;color:#222">Slight</div>
<div class="t" style="left:237.80px;top:291.26px;width:900px;font-size:14.25px;line-height:17px;text-align:center;color:#222">Slight</div>
<div class="t" style="left:422.00px;top:291.26px;width:900px;font-size:14.25px;line-height:17px;text-align:center;color:#222">Slight</div>
<div class="t" style="left:514.40px;top:291.26px;width:900px;font-size:14.25px;line-height:17px;text-align:center;color:#222">Slight</div>
<div class="t" style="left:614.40px;top:291.26px;width:900px;font-size:14.25px;line-height:17px;text-align:center;color:#222">Internal</div>
<div class="t" style="left:329.00px;top:275.16px;width:900px;font-size:14.25px;line-height:17px;text-align:center;color:#222">Internal/</div>
<div class="t" style="left:329.00px;top:291.26px;width:900px;font-size:14.25px;line-height:17px;text-align:center;color:#222">Corporate</div>
<div class="t" style="left:329.00px;top:307.36px;width:900px;font-size:14.25px;line-height:17px;text-align:center;color:#222">Requirements</div>
<div class="t" style="left:146.30px;top:393.26px;width:900px;font-size:14.25px;line-height:17px;text-align:center;color:#222">Minor</div>
<div class="t" style="left:237.80px;top:393.26px;width:900px;font-size:14.25px;line-height:17px;text-align:center;color:#222">Minor</div>
<div class="t" style="left:422.00px;top:393.26px;width:900px;font-size:14.25px;line-height:17px;text-align:center;color:#222">Minor</div>
<div class="t" style="left:514.40px;top:393.26px;width:900px;font-size:14.25px;line-height:17px;text-align:center;color:#222">Minor</div>
<div class="t" style="left:614.40px;top:393.26px;width:900px;font-size:14.25px;line-height:17px;text-align:center;color:#222">Local</div>
<div class="t" style="left:329.00px;top:376.16px;width:900px;font-size:14.25px;line-height:17px;text-align:center;color:#222">Industry/</div>
<div class="t" style="left:329.00px;top:392.26px;width:900px;font-size:14.25px;line-height:17px;text-align:center;color:#222">Community</div>
<div class="t" style="left:329.00px;top:408.36px;width:900px;font-size:14.25px;line-height:17px;text-align:center;color:#222">Requirements</div>
<div class="t" style="left:146.30px;top:495.26px;width:900px;font-size:14.25px;line-height:17px;text-align:center;color:#222">Serious</div>
<div class="t" style="left:237.80px;top:495.26px;width:900px;font-size:14.25px;line-height:17px;text-align:center;color:#222">Serious</div>
<div class="t" style="left:422.00px;top:495.26px;width:900px;font-size:14.25px;line-height:17px;text-align:center;color:#222">Serious</div>
<div class="t" style="left:514.40px;top:495.26px;width:900px;font-size:14.25px;line-height:17px;text-align:center;color:#222">Serious</div>
<div class="t" style="left:614.40px;top:495.26px;width:900px;font-size:14.25px;line-height:17px;text-align:center;color:#222">Regional</div>
<div class="t" style="left:329.00px;top:471.11px;width:900px;font-size:14.25px;line-height:17px;text-align:center;color:#222">Legal –</div>
<div class="t" style="left:329.00px;top:487.21px;width:900px;font-size:14.25px;line-height:17px;text-align:center;color:#222">Prescribed</div>
<div class="t" style="left:329.00px;top:503.31px;width:900px;font-size:14.25px;line-height:17px;text-align:center;color:#222">Practices/</div>
<div class="t" style="left:329.00px;top:519.41px;width:900px;font-size:14.25px;line-height:17px;text-align:center;color:#222">Procedures</div>
<div class="t" style="left:146.30px;top:598.16px;width:900px;font-size:14.25px;line-height:17px;text-align:center;color:#222">Major</div>
<div class="t" style="left:237.80px;top:598.16px;width:900px;font-size:14.25px;line-height:17px;text-align:center;color:#222">Major</div>
<div class="t" style="left:422.00px;top:598.16px;width:900px;font-size:14.25px;line-height:17px;text-align:center;color:#222">Major</div>
<div class="t" style="left:514.40px;top:598.16px;width:900px;font-size:14.25px;line-height:17px;text-align:center;color:#222">Major</div>
<div class="t" style="left:614.40px;top:598.16px;width:900px;font-size:14.25px;line-height:17px;text-align:center;color:#222">National</div>
<div class="t" style="left:329.00px;top:581.06px;width:900px;font-size:14.25px;line-height:17px;text-align:center;color:#222">Legal –</div>
<div class="t" style="left:329.00px;top:597.16px;width:900px;font-size:14.25px;line-height:17px;text-align:center;color:#222">Standards/</div>
<div class="t" style="left:329.00px;top:613.26px;width:900px;font-size:14.25px;line-height:17px;text-align:center;color:#222">Limits</div>
<div class="t" style="left:146.30px;top:700.06px;width:900px;font-size:14.25px;line-height:17px;text-align:center;color:#222">Massive</div>
<div class="t" style="left:237.80px;top:700.06px;width:900px;font-size:14.25px;line-height:17px;text-align:center;color:#222">Catastrophic</div>
<div class="t" style="left:422.00px;top:700.06px;width:900px;font-size:14.25px;line-height:17px;text-align:center;color:#222">Massive</div>
<div class="t" style="left:514.40px;top:700.06px;width:900px;font-size:14.25px;line-height:17px;text-align:center;color:#222">Catastrophic</div>
<div class="t" style="left:614.40px;top:700.06px;width:900px;font-size:14.25px;line-height:17px;text-align:center;color:#222">International</div>
<div class="t" style="left:329.00px;top:682.96px;width:900px;font-size:14.25px;line-height:17px;text-align:center;color:#222">Legal –</div>
<div class="t" style="left:329.00px;top:699.06px;width:900px;font-size:14.25px;line-height:17px;text-align:center;color:#222">Permits/</div>
<div class="t" style="left:329.00px;top:715.16px;width:900px;font-size:14.25px;line-height:17px;text-align:center;color:#222">Licenses</div>
</body></html>
